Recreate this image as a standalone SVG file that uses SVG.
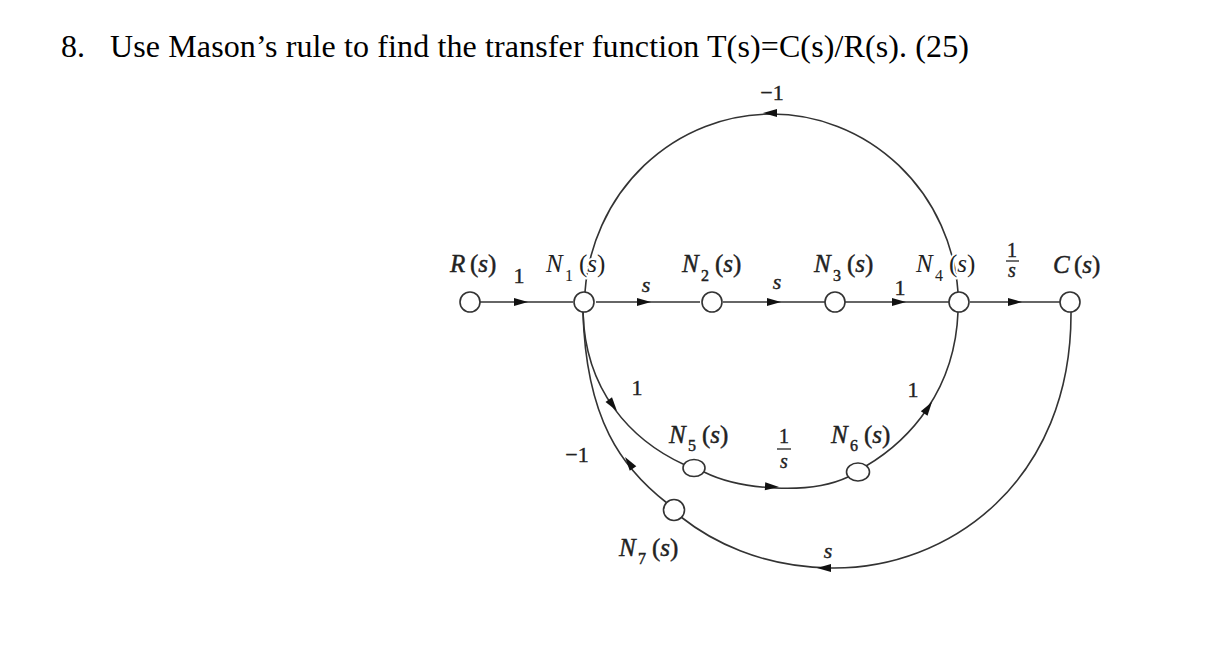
<svg xmlns="http://www.w3.org/2000/svg" xmlns:xlink="http://www.w3.org/1999/xlink" width="1230" height="646" viewBox="0 0 1230 646">
<style>
.title{font-family:"Liberation Serif","Times New Roman",serif;font-size:32px;fill:#000}
.lbl{font-family:"Liberation Serif","Times New Roman",serif;font-size:25px;fill:#222;stroke:#222;stroke-width:0.45px}
.halo{paint-order:stroke;stroke:#fff;stroke-width:4px;stroke-linejoin:round}
.it{font-style:italic}
.sub{font-size:16px}
.gain{font-family:"Liberation Serif","Times New Roman",serif;font-size:22px;fill:#222;stroke:#222;stroke-width:0.4px}
.frac{font-family:"Liberation Serif","Times New Roman",serif;font-size:20px;fill:#222;stroke:#222;stroke-width:0.4px;text-anchor:middle}
.edge{fill:none;stroke:#333;stroke-width:1.6}
.node{fill:#fff;stroke:#333;stroke-width:1.6}
.bar{stroke:#222;stroke-width:1.3}
</style>
<defs>
<path id="arr" d="M0,0 L-14,-4 L-14,4 Z" fill="#111"/>
</defs>
<text class="title" x="61" y="57">8.</text>
<text class="title" x="110" y="57" textLength="859" lengthAdjust="spacing">Use Mason’s rule to find the transfer function T(s)=C(s)/R(s). (25)</text>

<g id="connectors">
<path class="edge" d="M480 302 L573 302"/>
<path class="edge" d="M596 302 L700 302"/>
<path class="edge" d="M723 302 L825 302"/>
<path class="edge" d="M845 302 L949 302"/>
<path class="edge" d="M970 302 L1060 302"/>
<path class="edge" d="M958 292 A187 192 0 0 0 585 292"/>
<path class="edge" d="M583 312 C585 390 630 440 685 465"/>
<path class="edge" d="M667 503 C622 468 586 420 583 312"/>
<path class="edge" d="M704 472 C740 490 810 495 848 477"/>
<path class="edge" d="M866 466 C910 440 955 390 958 312"/>
<path class="edge" d="M1071 312 C1072 480 950 570 830 568 C760 567 710 540 681 517"/>
<use xlink:href="#arr" href="#arr" transform="translate(528,302)"/>
<use xlink:href="#arr" href="#arr" transform="translate(651,302)"/>
<use xlink:href="#arr" href="#arr" transform="translate(781,302)"/>
<use xlink:href="#arr" href="#arr" transform="translate(906,302)"/>
<use xlink:href="#arr" href="#arr" transform="translate(1022,302)"/>
<use xlink:href="#arr" href="#arr" transform="translate(763,113) rotate(180)"/>
<use xlink:href="#arr" href="#arr" transform="translate(617,411) rotate(54)"/>
<use xlink:href="#arr" href="#arr" transform="translate(625,457) rotate(-125)"/>
<use xlink:href="#arr" href="#arr" transform="translate(779,487) rotate(3)"/>
<use xlink:href="#arr" href="#arr" transform="translate(932,402) rotate(-56)"/>
<use xlink:href="#arr" href="#arr" transform="translate(817,568) rotate(180)"/>
<text class="gain" x="519" y="283" text-anchor="middle">1</text>
<text class="gain it" x="646" y="292" text-anchor="middle" font-size="24">s</text>
<text class="gain it" x="777" y="289" text-anchor="middle" font-size="24">s</text>
<text class="gain" x="900" y="295" text-anchor="middle">1</text>
<text class="frac" x="1012" y="257">1</text>
<line class="bar" x1="1006" y1="261" x2="1019" y2="261"/>
<text class="frac it" x="1012" y="277">s</text>
<text class="gain" x="772" y="100" text-anchor="middle">−1</text>
<text class="gain" x="637" y="395" text-anchor="middle">1</text>
<text class="frac" x="784" y="443">1</text>
<line class="bar" x1="777" y1="449" x2="791" y2="449"/>
<text class="frac it" x="784" y="468">s</text>
<text class="gain" x="913" y="397" text-anchor="middle">1</text>
<text class="gain" x="577" y="462" text-anchor="middle">−1</text>
<text class="gain it" x="828" y="558" text-anchor="middle" font-size="24">s</text>
</g>

<g id="node-R">
<circle class="node" cx="470" cy="302" r="10"/>
<text class="lbl" y="272"><tspan class="it" x="450">R</tspan><tspan x="470">(</tspan><tspan class="it">s</tspan>)</text>
</g>
<g id="node-N1">
<circle class="node" cx="584" cy="302" r="10"/>
<text class="lbl halo" y="272"><tspan class="it" x="546">N</tspan><tspan class="sub" x="565" dy="9">1</tspan><tspan x="579" dy="-9">(</tspan><tspan class="it">s</tspan>)</text>
</g>
<g id="node-N2">
<circle class="node" cx="712" cy="302" r="10"/>
<text class="lbl" y="272"><tspan class="it" x="682">N</tspan><tspan class="sub" x="701" dy="9">2</tspan><tspan x="715" dy="-9">(</tspan><tspan class="it">s</tspan>)</text>
</g>
<g id="node-N3">
<circle class="node" cx="835" cy="302" r="10"/>
<text class="lbl" y="272"><tspan class="it" x="814">N</tspan><tspan class="sub" x="833" dy="9">3</tspan><tspan x="847" dy="-9">(</tspan><tspan class="it">s</tspan>)</text>
</g>
<g id="node-N4">
<circle class="node" cx="959" cy="302" r="10"/>
<text class="lbl halo" y="272"><tspan class="it" x="916">N</tspan><tspan class="sub" x="935" dy="9">4</tspan><tspan x="949" dy="-9">(</tspan><tspan class="it">s</tspan>)</text>
</g>
<g id="node-C">
<circle class="node" cx="1070" cy="302" r="10"/>
<text class="lbl" y="273"><tspan class="it" x="1053">C</tspan><tspan x="1074">(</tspan><tspan class="it">s</tspan>)</text>
</g>
<g id="node-N5">
<ellipse class="node" cx="694" cy="468" rx="11" ry="8.5"/>
<text class="lbl" y="443"><tspan class="it" x="669">N</tspan><tspan class="sub" x="688" dy="8">5</tspan><tspan x="702" dy="-8">(</tspan><tspan class="it">s</tspan>)</text>
</g>
<g id="node-N6">
<ellipse class="node" cx="858" cy="472" rx="11.5" ry="9"/>
<text class="lbl" y="443"><tspan class="it" x="831">N</tspan><tspan class="sub" x="850" dy="8">6</tspan><tspan x="864" dy="-8">(</tspan><tspan class="it">s</tspan>)</text>
</g>
<g id="node-N7">
<circle class="node" cx="674" cy="510" r="10.5"/>
<text class="lbl" y="556"><tspan class="it" x="619">N</tspan><tspan class="sub" x="638" dy="8">7</tspan><tspan x="652" dy="-8">(</tspan><tspan class="it">s</tspan>)</text>
</g>
</svg>
